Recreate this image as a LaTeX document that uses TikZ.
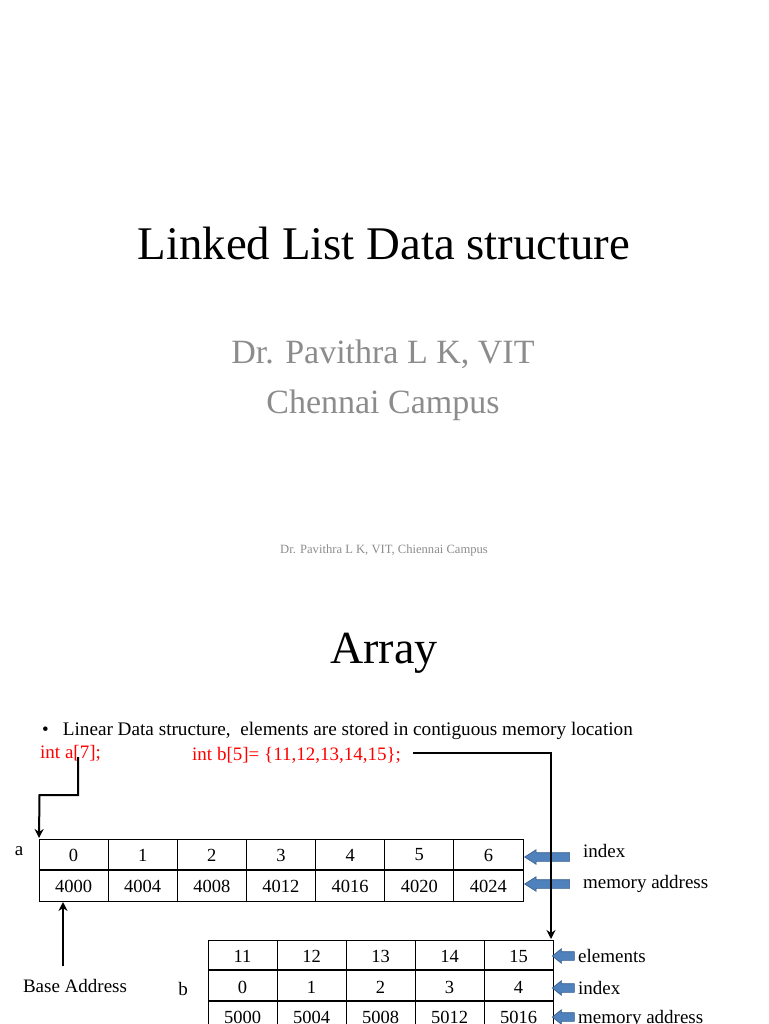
\documentclass[tikz,border=0pt]{standalone}
\usepackage{fontspec}
\setmainfont{Liberation Serif}
\usetikzlibrary{shapes.arrows,arrows.meta}
\definecolor{redtxt}{HTML}{FF0000}
\definecolor{graytxt}{HTML}{8C8C8C}
\definecolor{bfill}{HTML}{4F81BD}
\definecolor{bdraw}{HTML}{385D8A}
\begin{document}
\begin{tikzpicture}[x=1pt,y=-1pt,
  txt/.style={inner sep=0pt,font=\fontsize{19}{22}\selectfont},
  cell/.style={inner sep=0pt,font=\fontsize{18.5}{22}\selectfont},
  barrow/.style={shape=single arrow,shape border rotate=180,fill=bfill,draw=bdraw,line width=0.6pt,
     inner sep=4pt,single arrow head extend=3pt,single arrow tip angle=65,minimum width=14pt,minimum height=45pt},
  sarrow/.style={barrow,single arrow tip angle=78,minimum height=22pt},
  conn/.style={line width=2pt,-{Stealth[length=9pt,width=9pt]}},
  grid/.style={line width=0.8pt},
  rowsep/.style={line width=2pt}]
\useasboundingbox (0,0) rectangle (768,1024);
% titles
\node[inner sep=0pt,anchor=base,font=\fontsize{46.8}{50}\selectfont] (title) at (384,259) {Linked List Data structure};
\node[inner sep=0pt,anchor=base,text=graytxt,font=\fontsize{34}{40}\selectfont] (sub1) at (383,363) {Dr. Pavithra L K, VIT};
\node[inner sep=0pt,anchor=base,text=graytxt,font=\fontsize{34}{40}\selectfont] (sub2) at (383,413) {Chennai Campus};
\node[inner sep=0pt,anchor=base,text=graytxt,font=\fontsize{12.6}{14}\selectfont] (foot) at (384,553) {Dr. Pavithra L K, VIT, Chiennai Campus};
\node[inner sep=0pt,anchor=base,font=\fontsize{46}{50}\selectfont] (array) at (384,663) {Array};
% bullet
\node[txt,anchor=base west] (bullet) at (42,735) {\textbullet\hspace{14pt}{\fontsize{19.2}{22}\selectfont Linear Data structure,\ \ elements are stored in contiguous memory location}};
\node[txt,anchor=base west,text=redtxt] (inta) at (40,758) {int a[7];};
\node[txt,anchor=base west,text=redtxt] (intb) at (192,760) {int b[5]= \{11,12,13,14,15\};};
% table a
\foreach \i/\v/\m in {0/0/4000,1/1/4004,2/2/4008,3/3/4012,4/4/4016,5/5/4020,6/6/4024}{
  \node[cell] (ai\i) at ({39+69.14*(\i+0.5)},855) {\v};
  \node[cell] (am\i) at ({39+69.14*(\i+0.5)},886) {\m};
}
\draw[grid] (39,839) rectangle (523,901);
\foreach \i in {1,...,6}{\draw[grid] ({39+69.14*\i},839) -- ({39+69.14*\i},901);}
\draw[rowsep] (39,870) -- (523,870);
\node[txt] (la) at (19,851) {a};
% table b
\foreach \i/\e/\v/\m in {0/11/0/5000,1/12/1/5004,2/13/2/5008,3/14/3/5012,4/15/4/5016}{
  \node[cell] (be\i) at ({208+69*(\i+0.5)},956) {\e};
  \node[cell] (bi\i) at ({208+69*(\i+0.5)},987) {\v};
  \node[cell] (bm\i) at ({208+69*(\i+0.5)},1017) {\m};
}
\draw[grid] (208,940) rectangle (553,1034);
\foreach \i in {1,...,4}{\draw[grid] ({208+69*\i},940) -- ({208+69*\i},1034);}
\draw[rowsep] (208,970) -- (553,970);
\draw[rowsep] (208,1001) -- (553,1001);
\node[txt] (lb) at (183,989) {b};
% labels right
\node[barrow] (arA1) at (550.5,857) {};
\node[barrow] (arA2) at (550.5,884) {};
\node[txt,anchor=base west] (lidx) at (583,857) {index};
\node[txt,anchor=base west] (lmem) at (583,888) {memory address};
\node[sarrow] (arB1) at (566,956) {};
\node[sarrow] (arB2) at (566,988) {};
\node[sarrow] (arB3) at (566,1017) {};
\node[txt,anchor=base west] (lel) at (578,962) {elements};
\node[txt,anchor=base west] (lbi) at (578,994) {index};
\node[txt,anchor=base west] (lbm) at (578,1023) {memory address};
% base address
\node[txt,anchor=base] (base) at (75,992) {Base Address};
% connectors
\coordinate (aS) at (78,757);
\coordinate (aE) at (39,838);
\draw[conn] (aS) -- (78,795) -- (39.5,795) -- (aE);
\coordinate (bS) at (413,753);
\coordinate (bE) at (551,939);
\draw[conn] (bS) -| (bE);
\coordinate (baseS) at (63,966);
\coordinate (baseE) at (63,902);
\draw[conn] (baseS) -- (baseE);
\end{tikzpicture}
\end{document}
